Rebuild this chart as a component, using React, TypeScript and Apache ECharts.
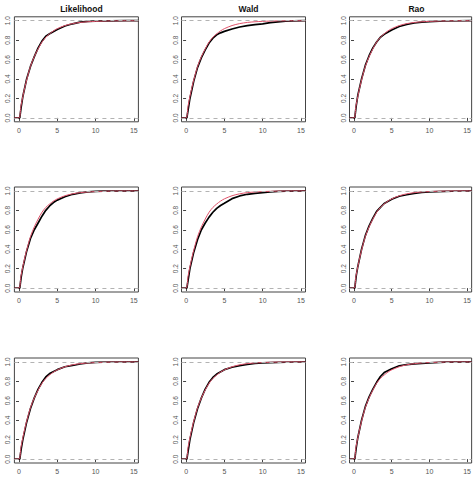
import React, { useEffect, useRef } from "react";
import * as echarts from "echarts";

const columnTitles = ["Likelihood", "Wald", "Rao"];
const xTicks = [0, 5, 10, 15];
const yTicks = [0, 0.2, 0.4, 0.6, 0.8, 1.0];

// reference (red) CDF curve
const refX = [-0.6, 0, 0.25, 0.5, 0.75, 1, 1.5, 2, 2.5, 3, 3.5, 4, 4.5, 5, 6, 7, 8, 9, 10, 12, 15.6];
const refY = [0, 0, 0.12, 0.22, 0.31, 0.39, 0.53, 0.63, 0.71, 0.78, 0.83, 0.865, 0.895, 0.918, 0.95, 0.97, 0.982, 0.989, 0.993, 0.998, 1.0];

// empirical CDFs (black), row-major: row1 L/W/R, row2 L/W/R, row3 L/W/R
const ecdfX11 = [-0.6, 0.1, 0.3, 0.5, 1, 1.5, 2, 2.5, 3, 3.5, 4, 5, 6, 7, 8, 9, 10, 12, 14, 15.6];
const ecdfY11 = [0, 0, 0.12, 0.22, 0.4, 0.53, 0.63, 0.72, 0.79, 0.84, 0.865, 0.91, 0.945, 0.968, 0.985, 0.992, 0.996, 0.999, 1, 1];
const ecdfX12 = [-0.6, 0.1, 0.3, 0.5, 1, 1.5, 2, 2.5, 3, 3.5, 4, 4.5, 5, 6, 7, 8, 9, 10, 11, 12, 13, 14, 15.6];
const ecdfY12 = [0, 0, 0.1, 0.2, 0.38, 0.52, 0.62, 0.7, 0.77, 0.82, 0.855, 0.875, 0.89, 0.915, 0.935, 0.95, 0.96, 0.968, 0.98, 0.988, 0.994, 0.998, 1];
const ecdfX13 = [-0.6, 0.1, 0.3, 0.5, 1, 1.5, 2, 2.5, 3, 3.5, 4, 5, 6, 7, 8, 9, 10, 12, 15.6];
const ecdfY13 = [0, 0, 0.13, 0.23, 0.4, 0.54, 0.64, 0.72, 0.78, 0.83, 0.86, 0.905, 0.94, 0.962, 0.976, 0.986, 0.99, 0.997, 1];
const ecdfX21 = [-0.6, 0.1, 0.3, 0.5, 1, 1.5, 2, 2.5, 3, 3.5, 4, 4.5, 5, 6, 7, 8, 9, 10, 11, 15.6];
const ecdfY21 = [0, 0, 0.12, 0.21, 0.38, 0.51, 0.6, 0.67, 0.74, 0.8, 0.845, 0.88, 0.905, 0.94, 0.965, 0.98, 0.99, 0.995, 0.998, 1];
const ecdfX22 = [-0.6, 0.1, 0.3, 0.5, 1, 1.5, 2, 2.5, 3, 3.5, 4, 4.5, 5, 6, 7, 8, 9, 10, 11, 12, 13, 15.6];
const ecdfY22 = [0, 0, 0.1, 0.2, 0.37, 0.5, 0.6, 0.67, 0.73, 0.78, 0.82, 0.85, 0.873, 0.92, 0.948, 0.965, 0.975, 0.982, 0.99, 0.995, 0.998, 1];
const ecdfX23 = [-0.6, 0.1, 0.3, 0.5, 1, 1.5, 2, 2.5, 3, 3.5, 4, 5, 6, 7, 8, 9, 10, 12, 14, 15.6];
const ecdfY23 = [0, 0, 0.13, 0.22, 0.4, 0.54, 0.64, 0.72, 0.79, 0.83, 0.87, 0.915, 0.945, 0.96, 0.975, 0.985, 0.99, 0.996, 0.999, 1];
const ecdfX31 = [-0.6, 0.1, 0.3, 0.5, 1, 1.5, 2, 2.5, 3, 3.5, 4, 5, 6, 7, 8, 9, 10, 12, 15.6];
const ecdfY31 = [0, 0, 0.11, 0.2, 0.38, 0.52, 0.63, 0.72, 0.79, 0.845, 0.88, 0.92, 0.95, 0.965, 0.978, 0.99, 0.995, 0.999, 1];
const ecdfX32 = [-0.6, 0.1, 0.3, 0.5, 1, 1.5, 2, 2.5, 3, 3.5, 4, 5, 6, 7, 8, 9, 10, 12, 14, 15.6];
const ecdfY32 = [0, 0, 0.1, 0.2, 0.38, 0.52, 0.63, 0.72, 0.79, 0.84, 0.875, 0.92, 0.945, 0.962, 0.975, 0.985, 0.99, 0.996, 0.999, 1];
const ecdfX33 = [-0.6, 0.1, 0.3, 0.5, 1, 1.5, 2, 2.5, 3, 3.5, 4, 5, 6, 7, 8, 10, 12, 15.6];
const ecdfY33 = [0, 0, 0.12, 0.22, 0.4, 0.54, 0.64, 0.72, 0.79, 0.85, 0.89, 0.93, 0.96, 0.972, 0.98, 0.99, 0.997, 1];

const ecdfXs = [ecdfX11, ecdfX12, ecdfX13, ecdfX21, ecdfX22, ecdfX23, ecdfX31, ecdfX32, ecdfX33];
const ecdfYs = [ecdfY11, ecdfY12, ecdfY13, ecdfY21, ecdfY22, ecdfY23, ecdfY31, ecdfY32, ecdfY33];

const colLefts = [14.4, 181.5, 349.5];
const rowTops = [16.8, 187, 358];
const boxW = 124;
const boxH = 105;

const FONT = "Liberation Sans, Arial, sans-serif";

export default function App() {
  const ref = useRef<HTMLDivElement>(null);
  useEffect(() => {
    if (!ref.current) return;
    const chart = echarts.init(ref.current, undefined, { renderer: "svg" });
    const grids: any[] = [];
    const xAxes: any[] = [];
    const yAxes: any[] = [];
    const series: any[] = [];
    for (let r = 0; r < 3; r++) {
      for (let c = 0; c < 3; c++) {
        const i = r * 3 + c;
        grids.push({
          left: colLefts[c],
          top: rowTops[r],
          width: boxW,
          height: boxH,
          show: true,
          borderColor: "#444",
          borderWidth: 1,
          backgroundColor: "transparent",
        });
        xAxes.push({
          type: "value",
          gridIndex: i,
          min: -0.6,
          max: 15.6,
          axisLine: { show: false },
          axisTick: { show: true, customValues: xTicks, length: 3, lineStyle: { color: "#444" } },
          axisLabel: {
            customValues: xTicks,
            fontSize: 7,
            color: "#555",
            margin: 5,
            fontFamily: FONT,
            formatter: (v: number) => String(v),
          },
          splitLine: { show: false },
        });
        yAxes.push({
          type: "value",
          gridIndex: i,
          min: -0.04,
          max: 1.04,
          axisLine: { show: false },
          axisTick: { show: true, customValues: yTicks, length: 3, lineStyle: { color: "#444" } },
          axisLabel: {
            customValues: yTicks,
            rotate: 90,
            fontSize: 6.5,
            color: "#555",
            margin: 3,
            fontFamily: FONT,
            formatter: (v: number) => v.toFixed(1),
          },
          splitLine: { show: false },
        });
        const xs = ecdfXs[i];
        const ys = ecdfYs[i];
        series.push({
          type: "line",
          xAxisIndex: i,
          yAxisIndex: i,
          data: xs.map((x, k) => [x, ys[k]]),
          showSymbol: false,
          lineStyle: { color: "#000", width: 1.7 },
          markLine: {
            silent: true,
            symbol: "none",
            label: { show: false },
            lineStyle: { color: "#b3b3b3", type: [4, 4], width: 1 },
            data: [{ yAxis: 0 }, { yAxis: 1 }],
          },
          z: 2,
        });
        series.push({
          type: "line",
          xAxisIndex: i,
          yAxisIndex: i,
          data: refX.map((x, k) => [x, refY[k]]),
          showSymbol: false,
          smooth: 0.3,
          lineStyle: { color: "#DF536B", width: 1 },
          z: 3,
        });
      }
    }
    const titles = columnTitles.map((t, c) => ({
      text: t,
      left: colLefts[c] + boxW / 2,
      top: -1,
      textAlign: "center",
      textStyle: { fontSize: 8.5, fontWeight: "bold", color: "#111", fontFamily: FONT },
    }));
    chart.setOption({
      animation: false,
      backgroundColor: "#fff",
      title: titles,
      grid: grids,
      xAxis: xAxes,
      yAxis: yAxes,
      series,
    });
    return () => chart.dispose();
  }, []);
  return (
    <div
      ref={ref}
      style={{ position: "absolute", left: 0, top: 0, width: 474, height: 477 }}
    />
  );
}
